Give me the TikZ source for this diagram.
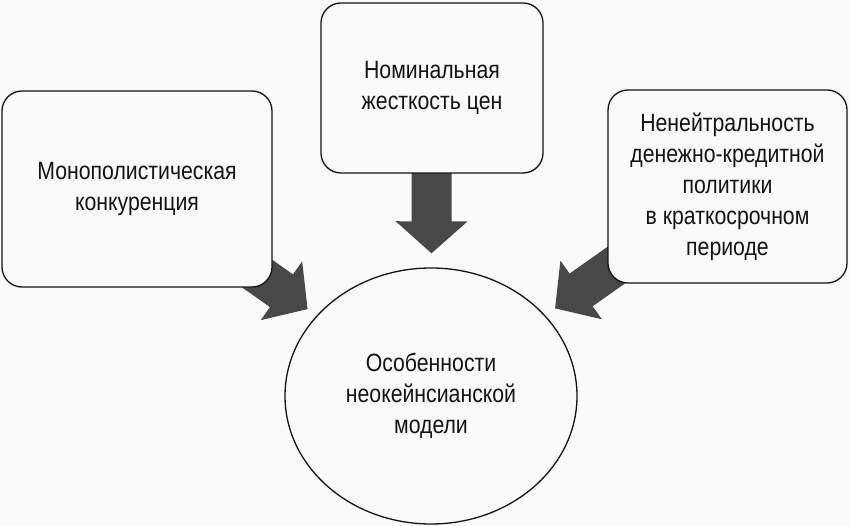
\documentclass[tikz,border=0pt]{standalone}
\usepackage{fontspec}
\setmainfont[FakeStretch=0.85]{Liberation Sans}
\usetikzlibrary{arrows.meta,shapes.geometric}
\definecolor{arrowgray}{RGB}{72,72,72}
\definecolor{paper}{RGB}{250,250,250}
\definecolor{ink}{RGB}{20,20,20}
\pgfdeclarelayer{bg}
\pgfsetlayers{bg,main}

\begin{document}
\begin{tikzpicture}[x=1pt, y=-1pt,
    label font/.style={font=\fontsize{25}{31}\selectfont, text=ink},
    box/.style={draw=ink, line width=1.3pt, rounded corners=20pt, fill=paper, align=center, label font},
    bigarrow/.style={draw=arrowgray, line width=40pt, -{Triangle[width=70pt, length=32pt]}}]
  \useasboundingbox (0,0) rectangle (850,526);
  % boxes
  \node[box, minimum width=270pt, minimum height=196pt] (mono) at (137,189) {Монополистическая\\конкуренция};
  \node[box, minimum width=222pt, minimum height=170pt] (nom) at (432,88) {Номинальная\\жесткость цен};
  \node[box, minimum width=239pt, minimum height=193pt] (nonneut) at (727.5,186.5) {Ненейтральность\\денежно-кредитной\\политики\\в краткосрочном\\периоде};
  \node[ellipse, draw=ink, line width=1.3pt, fill=paper, minimum width=292pt, minimum height=256pt, align=center, label font] (feat) at (431,396) {Особенности\\неокейнсианской\\модели};
  % arrows behind the boxes
  \begin{pgfonlayer}{bg}
    \fill[paper] (0,0) rectangle (850,526);
    \draw[bigarrow, shorten >=11pt] (mono.center) -- (feat);
    \draw[bigarrow, shorten >=14pt] (nom.center) -- (feat);
    \draw[bigarrow, shorten >=12pt] (nonneut.center) -- (feat);
  \end{pgfonlayer}
\end{tikzpicture}
\end{document}
